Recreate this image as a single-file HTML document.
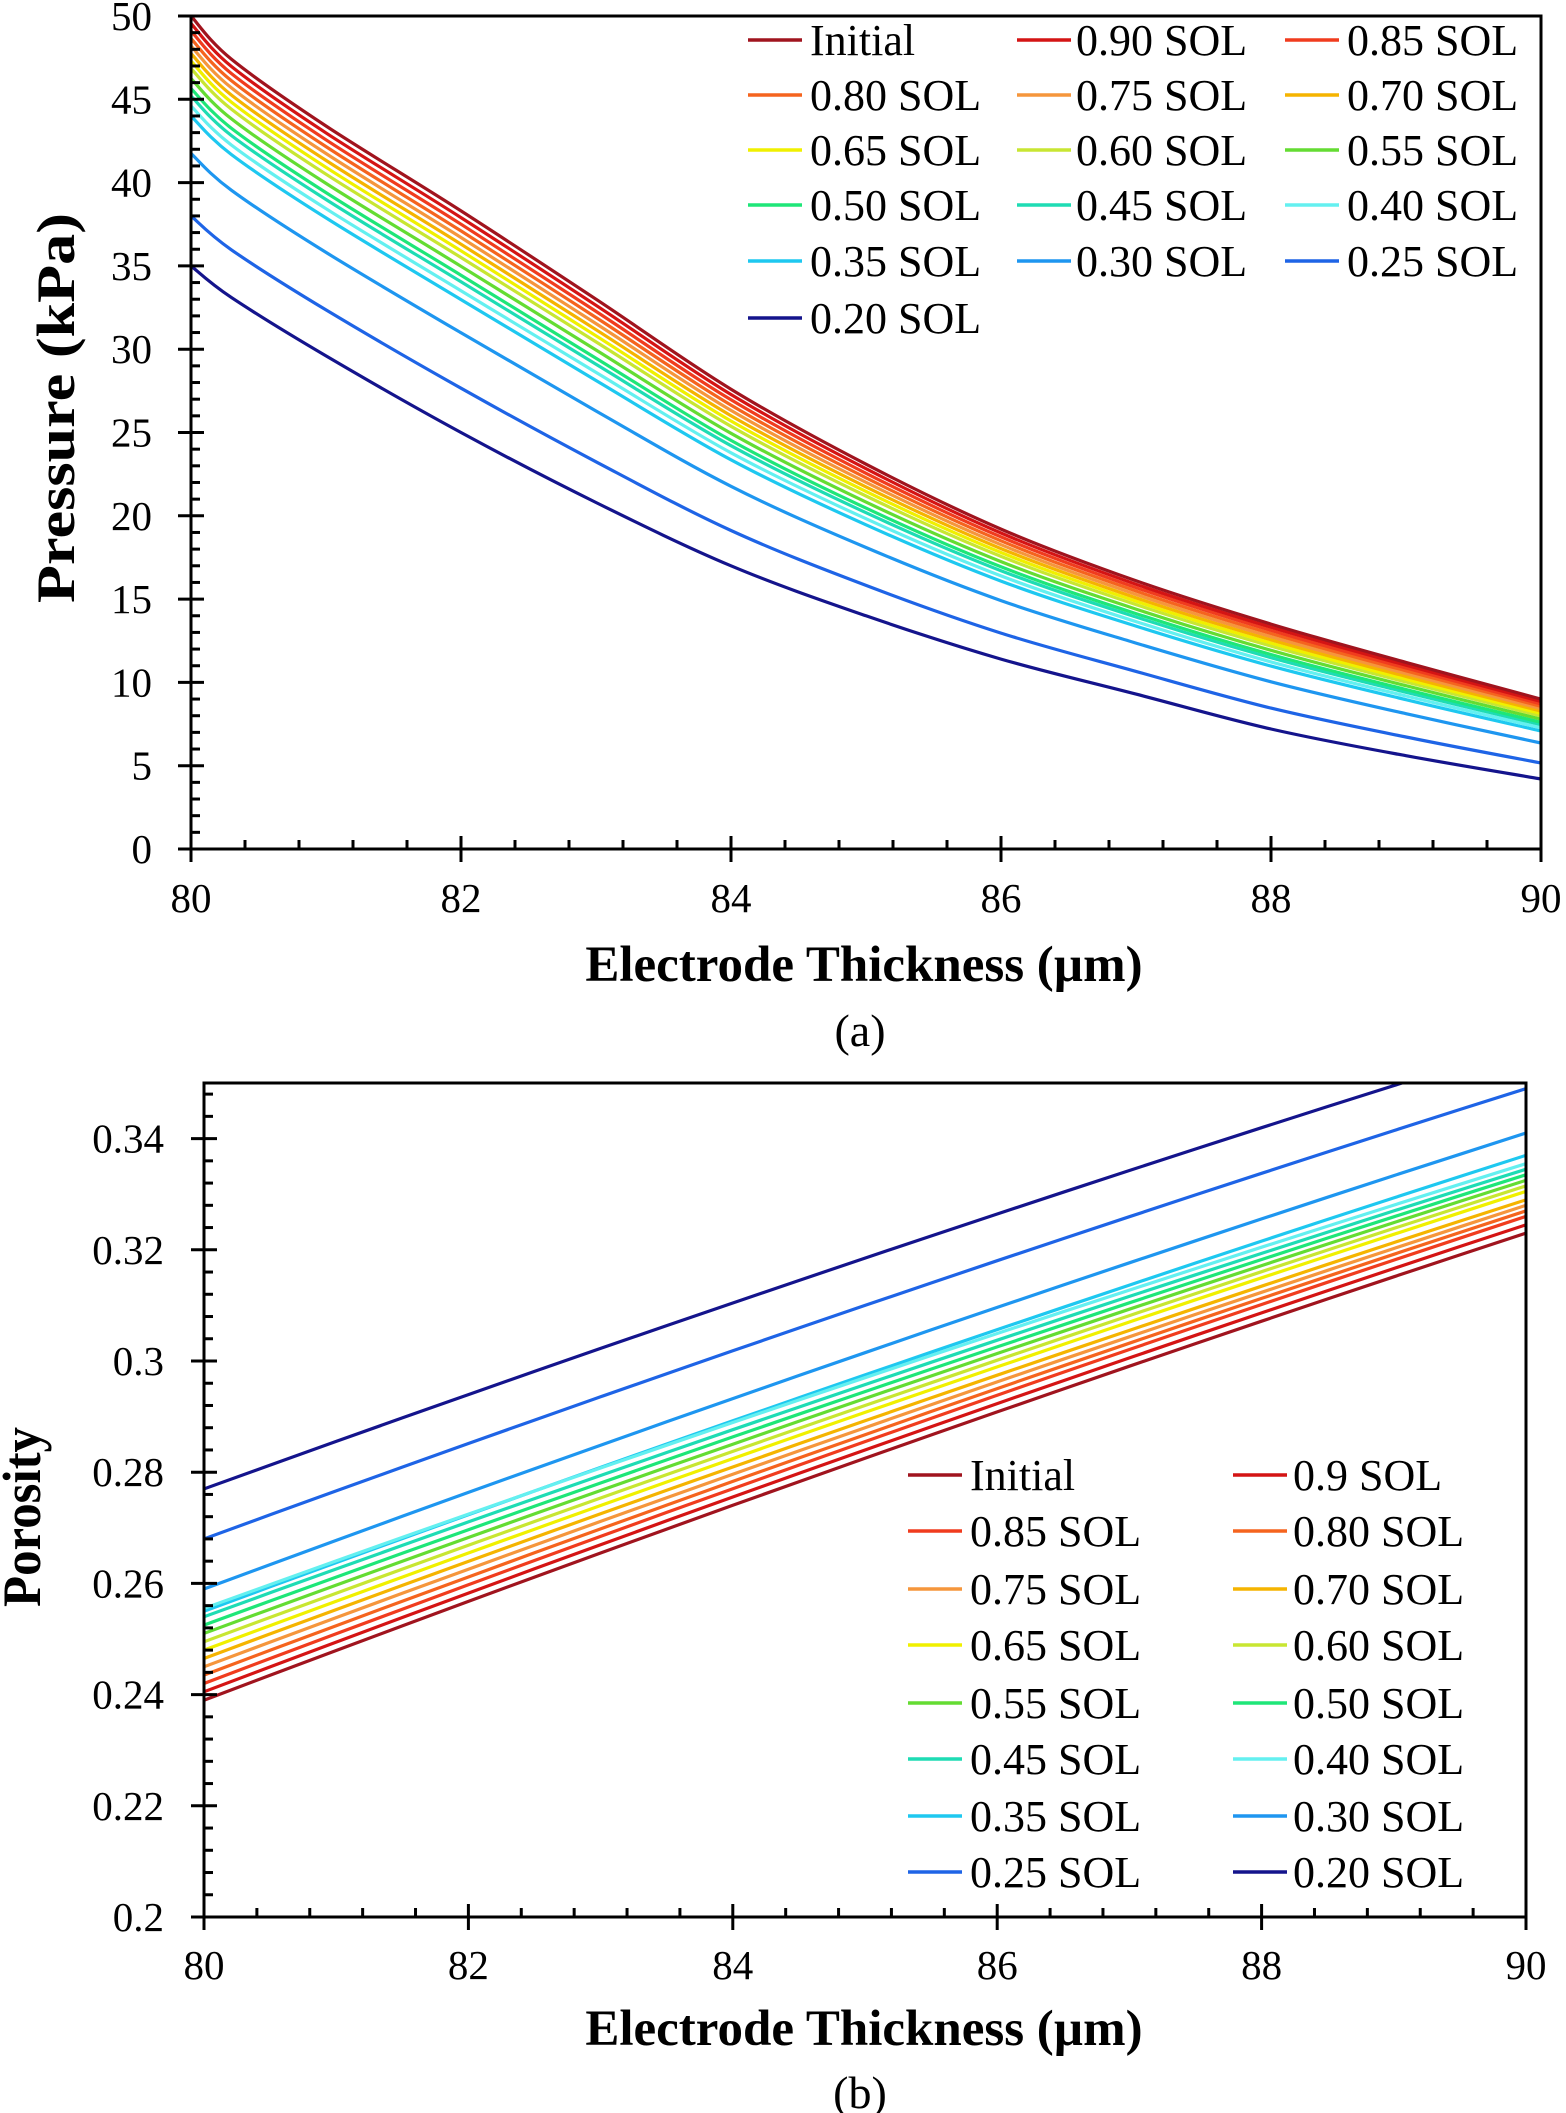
<!DOCTYPE html>
<html><head><meta charset="utf-8"><style>
html,body{margin:0;padding:0;background:#fff}
svg{display:block;font-family:"Liberation Serif",serif}
</style></head><body>
<svg id="s" width="1566" height="2113" viewBox="0 0 1566 2113" xmlns="http://www.w3.org/2000/svg"></svg>
<script>
const S=document.getElementById('s');let h='';
const cols=['#a0141e','#d41414','#f03c1e','#f5641e','#f5963c','#f5b400','#f0f000','#c8e632','#64dc32','#1ee678','#1edcb4','#64f0f0','#1ec8f0','#1e96f0','#1e64e6','#14148c'];
const f=[0,.03,.06,.09,.12,.15,.18,.21,.25,.29,.32,.36,.40,.55,.80,1];
function smooth(pts){let d='M'+pts[0][0].toFixed(1)+' '+pts[0][1].toFixed(1);
 for(let i=0;i<pts.length-1;i++){const p0=pts[Math.max(0,i-1)],p1=pts[i],p2=pts[i+1],p3=pts[Math.min(pts.length-1,i+2)];
 const c1=[p1[0]+(p2[0]-p0[0])/6,p1[1]+(p2[1]-p0[1])/6],c2=[p2[0]-(p3[0]-p1[0])/6,p2[1]-(p3[1]-p1[1])/6];
 d+='C'+c1[0].toFixed(1)+' '+c1[1].toFixed(1)+' '+c2[0].toFixed(1)+' '+c2[1].toFixed(1)+' '+p2[0].toFixed(1)+' '+p2[1].toFixed(1);}
 return d;}
// ---------- chart a ----------
const ax0=191,ax1=1541,ay0=849,ay1=16;
const X=x=>ax0+(x-80)*(ax1-ax0)/10, Y=p=>ay0-p*(ay0-ay1)/50;
const xs=[80,80.3,81,82,83,84,85,86,87,88,89,90];
const pI=[50,47.4,43.4,38.3,33,27.6,23.1,19.2,16.1,13.5,11.2,9];
const pL=[35,33.1,29.6,25,20.8,17,14,11.4,9.3,7.2,5.6,4.2];
h+='<defs><clipPath id="ca"><rect x="'+ax0+'" y="'+(ay1-2)+'" width="'+(ax1-ax0)+'" height="'+(ay0-ay1+2)+'"/></clipPath><clipPath id="cb"><rect x="204" y="1083" width="1322" height="834"/></clipPath></defs>';
h+='<g clip-path="url(#ca)" fill="none" stroke-width="3.2">';
for(let i=15;i>=0;i--){const pts=xs.map((x,k)=>[X(x),Y(pI[k]+(pL[k]-pI[k])*f[i])]);h+='<path d="'+smooth(pts)+'" stroke="'+cols[i]+'"/>';}
h+='</g>';
h+='<g stroke="#000" stroke-width="3" fill="none"><rect x="'+ax0+'" y="'+ay1+'" width="'+(ax1-ax0)+'" height="'+(ay0-ay1)+'"/>';
for(let p=0;p<=50;p++){const y=Y(p);if(p%5==0)h+='<line x1="'+(ax0-13)+'" x2="'+(ax0+13)+'" y1="'+y+'" y2="'+y+'"/>';else h+='<line x1="'+ax0+'" x2="'+(ax0+9)+'" y1="'+y+'" y2="'+y+'"/>';}
for(let i=0;i<=25;i++){const x=ax0+i*(ax1-ax0)/25;if(i%5==0)h+='<line x1="'+x+'" x2="'+x+'" y1="'+(ay0-13)+'" y2="'+(ay0+13)+'"/>';else h+='<line x1="'+x+'" x2="'+x+'" y1="'+(ay0-9)+'" y2="'+ay0+'"/>';}
h+='</g><g font-size="41" fill="#000">';
for(let p=0;p<=50;p+=5)h+='<text x="152" y="'+(Y(p)+14)+'" text-anchor="end">'+p+'</text>';
for(let x=80;x<=90;x+=2)h+='<text x="'+X(x)+'" y="912" text-anchor="middle">'+x+'</text>';
h+='</g>';
h+='<text x="864" y="981" font-size="51" font-weight="bold" text-anchor="middle">Electrode Thickness (µm)</text>';
h+='<text x="860" y="1046" font-size="46" text-anchor="middle">(a)</text>';
h+='<text transform="translate(74,408) rotate(-90)" font-size="54" font-weight="bold" text-anchor="middle" textLength="390" lengthAdjust="spacingAndGlyphs">Pressure (kPa)</text>';
const la=['Initial','0.90 SOL','0.85 SOL','0.80 SOL','0.75 SOL','0.70 SOL','0.65 SOL','0.60 SOL','0.55 SOL','0.50 SOL','0.45 SOL','0.40 SOL','0.35 SOL','0.30 SOL','0.25 SOL','0.20 SOL'];
const ra=[40,95,150,205,261,318],ca=[[748,810],[1017,1076],[1285,1347]];
la.forEach((t,i)=>{const r=ra[Math.floor(i/3)],c=ca[i%3];h+='<line x1="'+c[0]+'" x2="'+(c[0]+54)+'" y1="'+r+'" y2="'+r+'" stroke="'+cols[i]+'" stroke-width="3.5"/><text x="'+c[1]+'" y="'+(r+15)+'" font-size="44">'+t+'</text>';});
// ---------- chart b ----------
const bx0=204,bx1=1526,by0=1917,by1=1083;
const BX=x=>bx0+(x-80)*(bx1-bx0)/10, BY=v=>by0-(v-0.2)*(by0-by1)/0.15;
const s0=[.239,.2405,.242,.2435,.245,.2465,.248,.2495,.251,.2525,.254,.2555,.255,.259,.268,.277];
const e0=[.323,.3245,.326,.327,.328,.329,.3305,.3315,.3325,.3335,.3345,.3355,.337,.341,.349,.357];
h+='<g clip-path="url(#cb)" fill="none" stroke-width="3.2">';
for(let i=15;i>=0;i--){let d='';for(let k=0;k<=20;k++){const x=80+k*0.5,t=k/20;const v=s0[i]+(e0[i]-s0[i])*t+0.006*t*(1-t);d+=(k?'L':'M')+BX(x).toFixed(1)+' '+BY(v).toFixed(1);}h+='<path d="'+d+'" stroke="'+cols[i]+'"/>';}
h+='</g><g stroke="#000" stroke-width="3" fill="none"><rect x="'+bx0+'" y="'+by1+'" width="'+(bx1-bx0)+'" height="'+(by0-by1)+'"/>';
for(let i=0;i<=37;i++){const v=0.2+i*0.004;const y=BY(v);if(i%5==0)h+='<line x1="'+(bx0-13)+'" x2="'+(bx0+13)+'" y1="'+y+'" y2="'+y+'"/>';else h+='<line x1="'+bx0+'" x2="'+(bx0+9)+'" y1="'+y+'" y2="'+y+'"/>';}
for(let i=0;i<=25;i++){const x=bx0+i*(bx1-bx0)/25;if(i%5==0)h+='<line x1="'+x+'" x2="'+x+'" y1="'+(by0-13)+'" y2="'+(by0+13)+'"/>';else h+='<line x1="'+x+'" x2="'+x+'" y1="'+(by0-9)+'" y2="'+by0+'"/>';}
h+='</g><g font-size="41" fill="#000">';
['0.2','0.22','0.24','0.26','0.28','0.3','0.32','0.34'].forEach((t,i)=>{h+='<text x="164" y="'+(BY(0.2+i*0.02)+14)+'" text-anchor="end">'+t+'</text>';});
for(let x=80;x<=90;x+=2)h+='<text x="'+BX(x)+'" y="1979" text-anchor="middle">'+x+'</text>';
h+='</g>';
h+='<text x="864" y="2045" font-size="51" font-weight="bold" text-anchor="middle">Electrode Thickness (µm)</text>';
h+='<text x="860" y="2108" font-size="46" text-anchor="middle">(b)</text>';
h+='<text transform="translate(40,1517) rotate(-90)" font-size="54" font-weight="bold" text-anchor="middle" textLength="180" lengthAdjust="spacingAndGlyphs">Porosity</text>';
const lb=['Initial','0.9 SOL','0.85 SOL','0.80 SOL','0.75 SOL','0.70 SOL','0.65 SOL','0.60 SOL','0.55 SOL','0.50 SOL','0.45 SOL','0.40 SOL','0.35 SOL','0.30 SOL','0.25 SOL','0.20 SOL'];
const rb=[1475,1531,1589,1645,1703,1759,1816,1872],cb=[[908,970],[1233,1293]];
lb.forEach((t,i)=>{const r=rb[Math.floor(i/2)],c=cb[i%2];h+='<line x1="'+c[0]+'" x2="'+(c[0]+54)+'" y1="'+r+'" y2="'+r+'" stroke="'+cols[i]+'" stroke-width="3.5"/><text x="'+c[1]+'" y="'+(r+15)+'" font-size="44">'+t+'</text>';});
S.innerHTML=h;
</script>
</body></html>
